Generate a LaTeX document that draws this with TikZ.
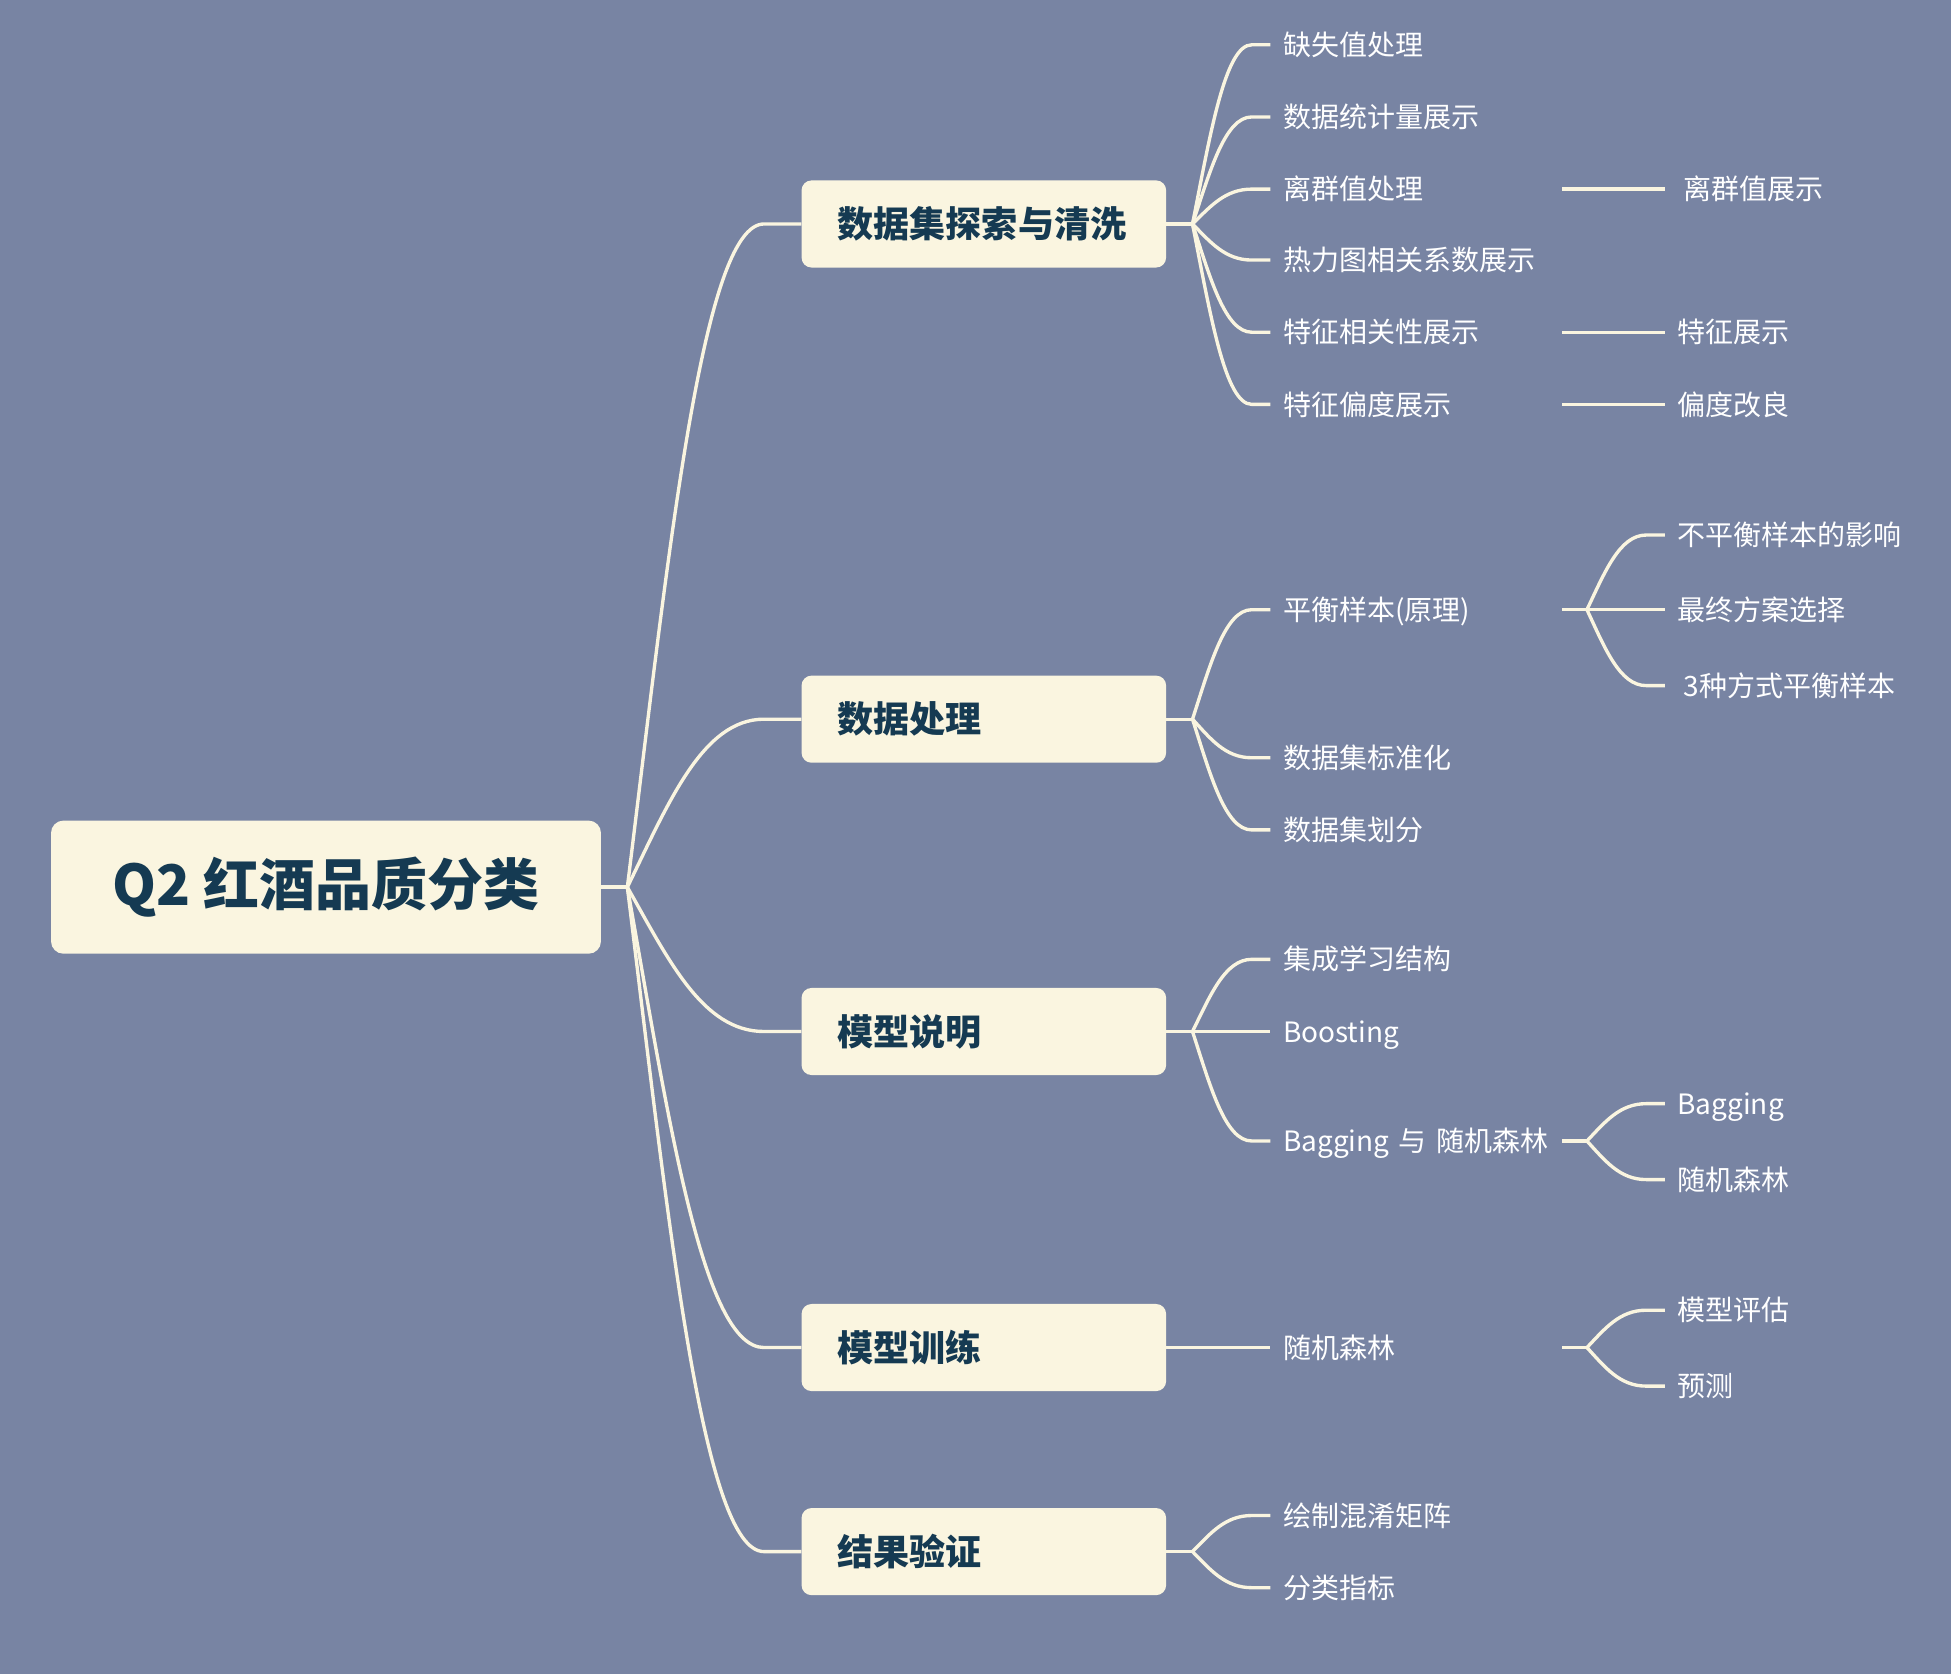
\documentclass[tikz,border=0pt]{standalone}
\usepackage{fontspec}
\setmainfont{Noto Sans CJK SC}
\usetikzlibrary{calc,positioning}
\definecolor{bgblue}{HTML}{7884A3}
\definecolor{cream}{HTML}{FAF5E0}
\definecolor{ink}{HTML}{153A52}

\begin{document}
\begin{tikzpicture}[
    x=1pt, y=-1pt,
    root/.style={rectangle, rounded corners=10pt, fill=cream, text=ink, font=\fontsize{45}{52}\selectfont\bfseries, minimum width=442pt, minimum height=107pt, inner sep=0pt},
    topic/.style={rectangle, rounded corners=8pt, fill=cream, text=ink, font=\fontsize{29}{34}\selectfont\bfseries, text width=235pt, align=left, inner xsep=29pt, inner ysep=0pt, minimum height=70pt, anchor=west},
    sub/.style={text=white, font=\fontsize{22.5}{27}\selectfont, text width=214pt, align=left, text height=19.8pt, text depth=2.7pt, inner xsep=10pt, inner ysep=0pt, anchor=west},
    leaf/.style={text=white, font=\fontsize{22.5}{27}\selectfont, text height=19.8pt, text depth=2.7pt, inner xsep=10pt, inner ysep=0pt, anchor=west},
    link/.style={draw=cream, line width=2.7pt},
    twig/.style={to path={let \p1=(\tikztostart), \p2=(\tikztotarget) in
        .. controls ({\x1+0.3*(\x2-#1-\x1)}, {\y1+0.5*(\y2-\y1)}) and ({\x1+0.55*(\x2-#1-\x1)}, \y2) .. ({\x2-#1}, \y2) -- (\p2) \tikztonodes}},
    twig/.default=15pt
]
    \fill[bgblue] (0,0) rectangle (1568,1345.3);

    \node[root] (R) at (262,713) {Q2 红酒品质分类};
    \coordinate[right=21pt of R.east] (RJ);

    \node[topic] (T1) at (644,180) {数据集探索与清洗};
    \node[topic] (T2) at (644,578) {数据处理};
    \node[topic] (T3) at (644,829) {模型说明};
    \node[topic] (T4) at (644,1083) {模型训练};
    \node[topic] (T5) at (644,1247) {结果验证};

    \draw[link] (R.east) -- (RJ);
    \foreach \i in {1,...,5}
        \draw[link] (RJ) to[twig=30pt] (T\i.west);

    \node[sub] (S11) at (1021,36) {缺失值处理};
    \node[sub] (S12) at (1021,94) {数据统计量展示};
    \node[sub] (S13) at (1021,152) {离群值处理};
    \node[sub] (S14) at (1021,209) {热力图相关系数展示};
    \node[sub] (S15) at (1021,267) {特征相关性展示};
    \node[sub] (S16) at (1021,325) {特征偏度展示};

    \node[sub] (S21) at (1021,490) {平衡样本(原理)};
    \node[sub] (S22) at (1021,609) {数据集标准化};
    \node[sub] (S23) at (1021,667) {数据集划分};

    \node[sub] (S31) at (1021,771) {集成学习结构};
    \node[sub] (S32) at (1021,829) {Boosting};
    \node[sub] (S33) at (1021,917) {Bagging 与 随机森林};

    \node[sub] (S41) at (1021,1083) {随机森林};

    \node[sub] (S51) at (1021,1218) {绘制混淆矩阵};
    \node[sub] (S52) at (1021,1276) {分类指标};

    \coordinate[right=21pt of T1.east] (J1);
    \coordinate[right=21pt of T2.east] (J2);
    \coordinate[right=21pt of T3.east] (J3);
    \coordinate[right=21pt of T5.east] (J5);

    \draw[link] (T1.east) -- (J1);
    \foreach \i in {1,...,6}
        \draw[link] (J1) to[twig] (S1\i.west);
    \draw[link] (T2.east) -- (J2);
    \foreach \i in {1,...,3}
        \draw[link] (J2) to[twig] (S2\i.west);
    \draw[link] (T3.east) -- (J3);
    \foreach \i in {1,...,3}
        \draw[link] (J3) to[twig] (S3\i.west);
    \draw[link] (T4.east) -- (S41.west);
    \draw[link] (T5.east) -- (J5);
    \foreach \i in {1,2}
        \draw[link] (J5) to[twig] (S5\i.west);

    \node[leaf] (L13) at (1338,152) {\ 离群值展示};
    \node[leaf] (L15) at (1338,267) {特征展示};
    \node[leaf] (L16) at (1338,325) {偏度改良};
    \draw[link] (S13.east) -- (L13.west);
    \draw[link] (S15.east) -- (L15.west);
    \draw[link] (S16.east) -- (L16.west);

    \node[leaf] (L211) at (1338,430) {不平衡样本的影响};
    \node[leaf] (L212) at (1338,490) {最终方案选择};
    \node[leaf] (L213) at (1338,551) {\ 3种方式平衡样本};
    \coordinate[right=20pt of S21.east] (K21);
    \draw[link] (S21.east) -- (K21);
    \foreach \i in {1,...,3}
        \draw[link] (K21) to[twig] (L21\i.west);

    \node[leaf] (L331) at (1338,887) {Bagging};
    \node[leaf] (L332) at (1338,948) {随机森林};
    \coordinate[right=20pt of S33.east] (K33);
    \draw[link] (S33.east) -- (K33);
    \foreach \i in {1,2}
        \draw[link] (K33) to[twig] (L33\i.west);

    \node[leaf] (L411) at (1338,1053) {模型评估};
    \node[leaf] (L412) at (1338,1114) {预测};
    \coordinate[right=20pt of S41.east] (K41);
    \draw[link] (S41.east) -- (K41);
    \foreach \i in {1,2}
        \draw[link] (K41) to[twig] (L41\i.west);
\end{tikzpicture}
\end{document}
